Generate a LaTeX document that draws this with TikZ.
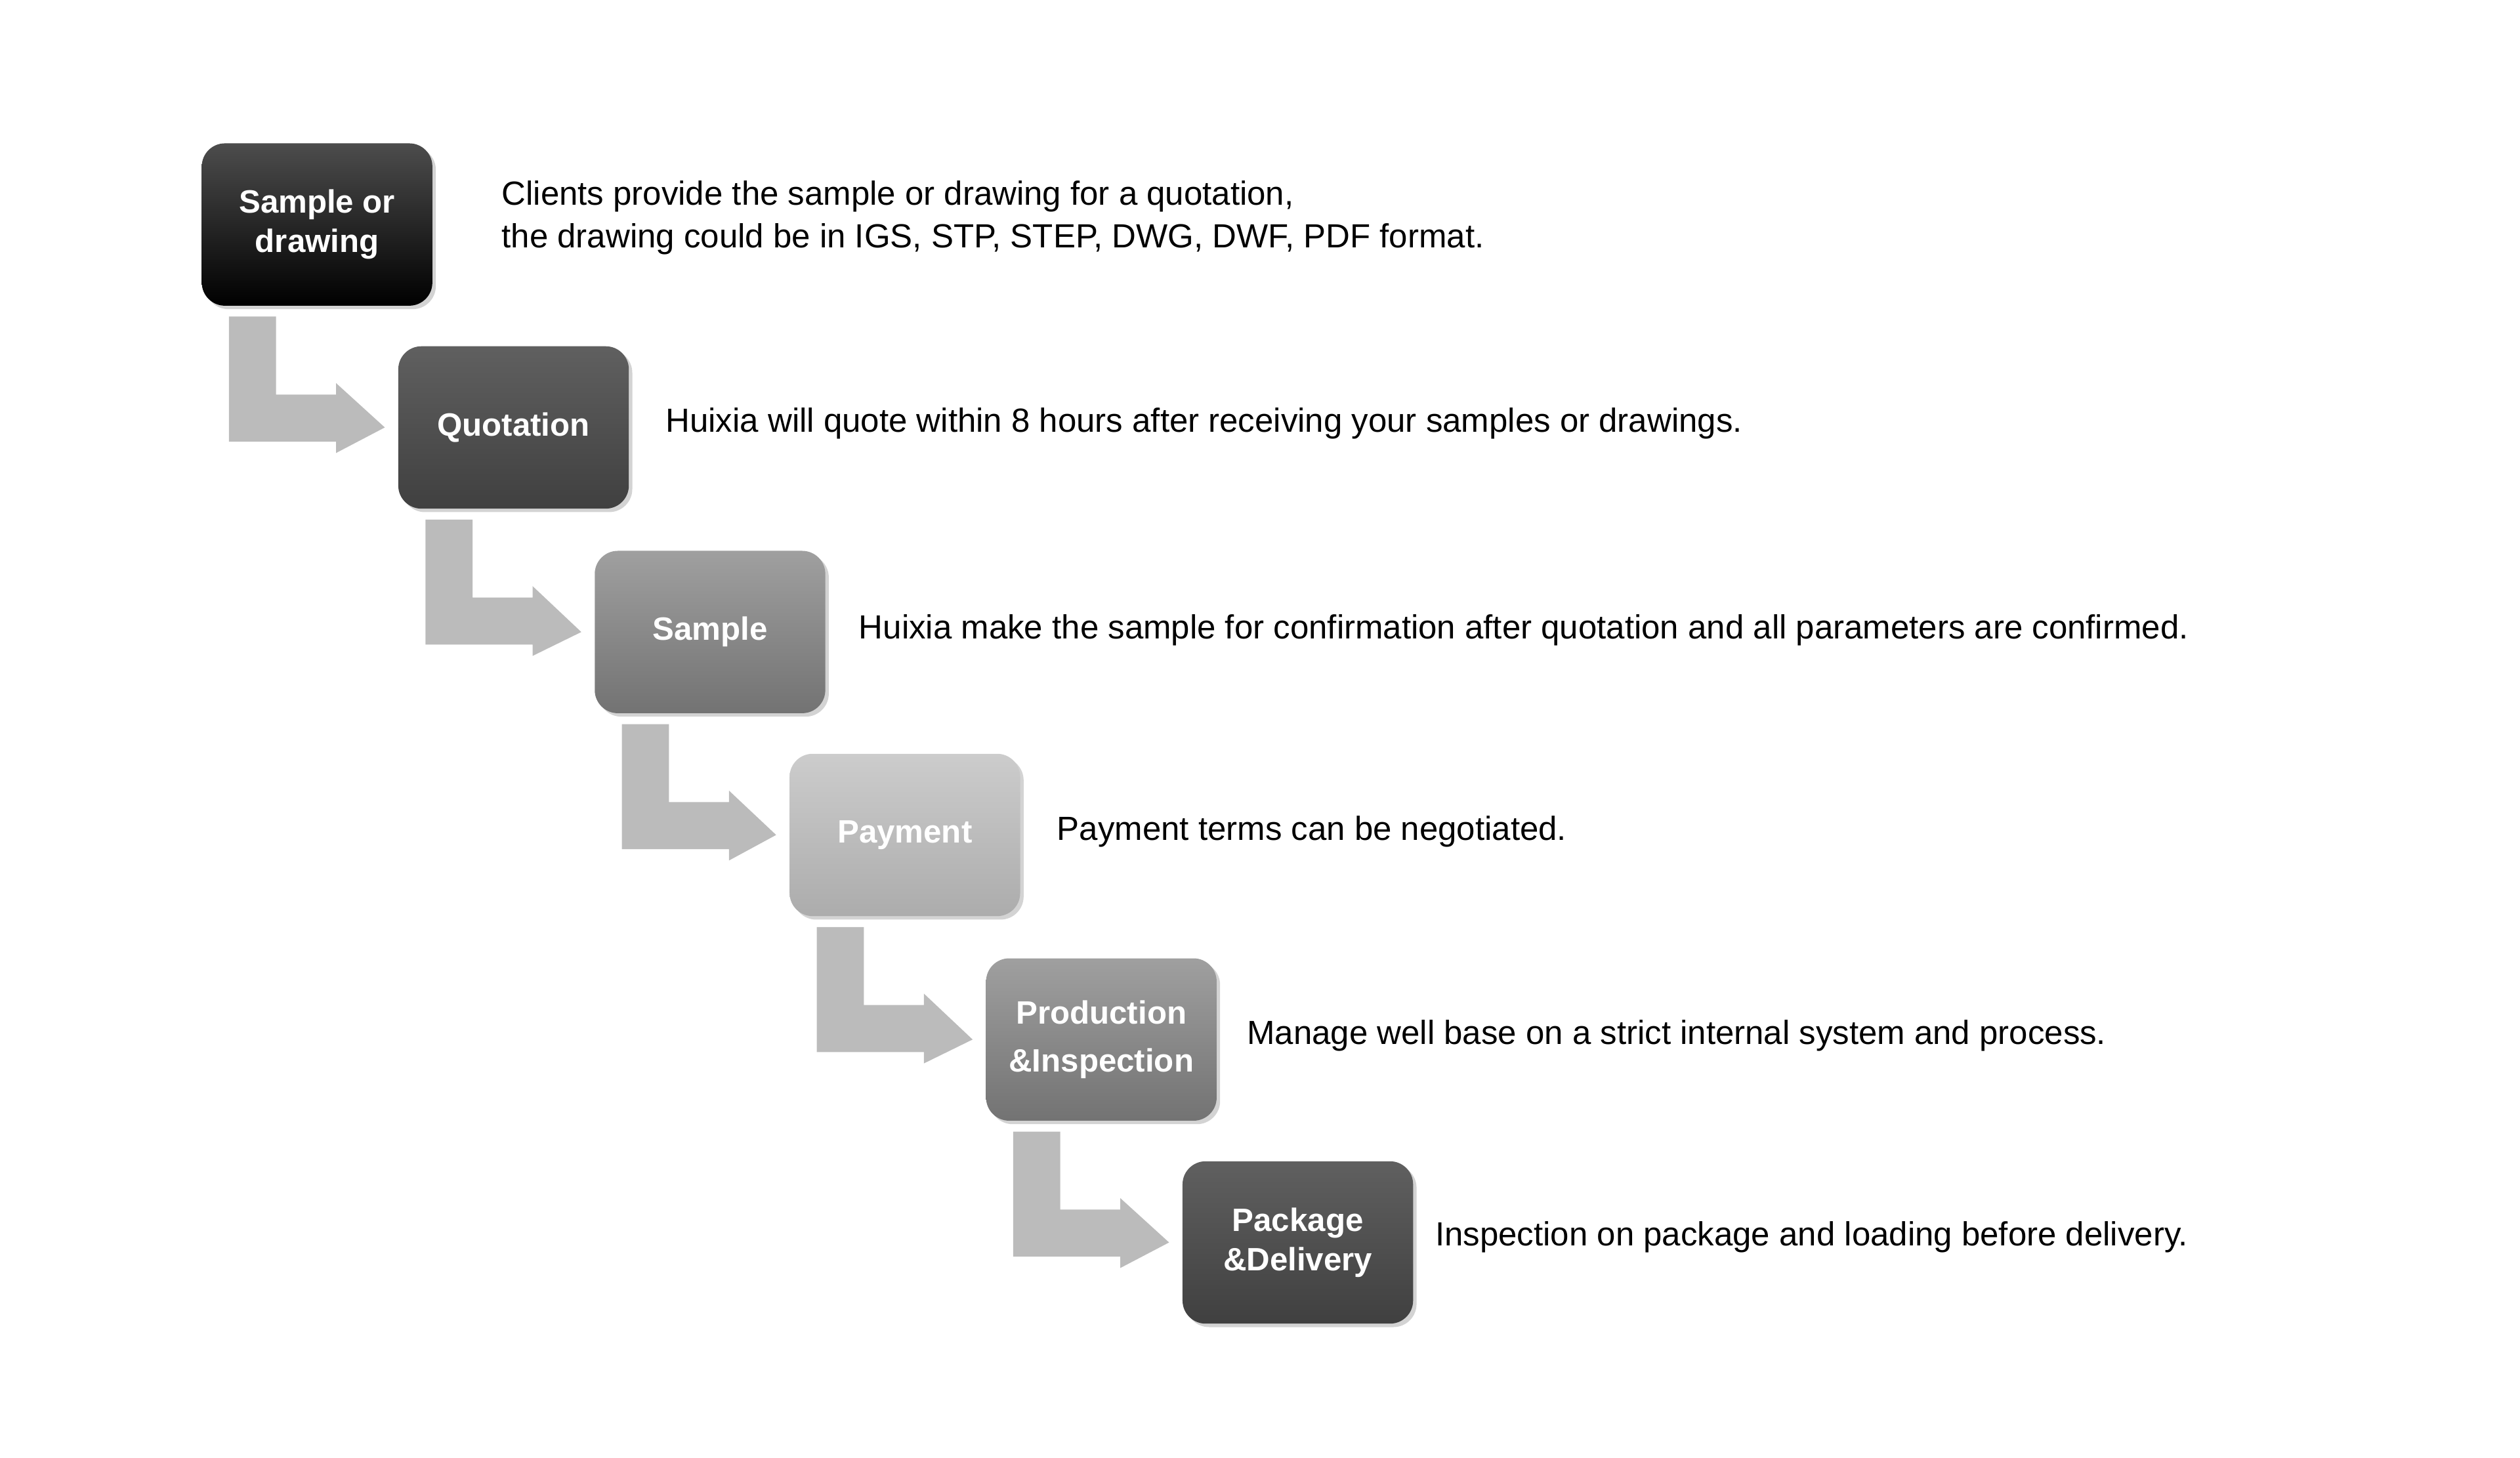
\documentclass[tikz,border=0pt]{standalone}
\usepackage{fontspec}
\setmainfont{Liberation Sans}
\usetikzlibrary{positioning,calc,shadows}
\definecolor{bar}{HTML}{BBBBBB}

\begin{document}
\begin{tikzpicture}[x=0.02474cm,y=-0.02474cm,
  phase/.style={rectangle, rounded corners=10, minimum width=142*0.02474cm, minimum height=100*0.02474cm, anchor=north west, align=center, text=white, font=\fontsize{14}{17}\selectfont\bfseries, drop shadow={opacity=0.35, shadow xshift=1.5pt, shadow yshift=-1.5pt}},
  desc/.style={anchor=west, align=left, font=\fontsize{14.5}{18.5}\selectfont},
  elbow/.style={fill=bar}]

\useasboundingbox (0,0) rectangle (1552,898);

% STEPS

\node [phase, top color=gray!60!black, bottom color=black] (drawing) at (124,88) {Sample or\\drawing};
\node [phase, top color=gray!75!black, bottom color=black!75] (quotation) at (245,213) {Quotation};
\node [phase, top color=gray!75, bottom color=black!55] (sample) at (366,339) {Sample};
\node [phase, top color=gray!40, bottom color=gray!65] (payment) at (486,464) {Payment};
\node [phase, top color=gray!75, bottom color=black!55] (production) at (607,590) {Production\\[4pt]\&Inspection};
\node [phase, top color=gray!75!black, bottom color=black!75] (package) at (728,715) {Package\\\&Delivery};

% DESCRIPTIONS

\node [desc] (drawing-text) at (304,134) {Clients provide the sample or drawing for a quotation,\\the drawing could be in IGS, STP, STEP, DWG, DWF, PDF format.};
\node [desc] (quotation-text) at (405,261) {Huixia will quote within 8 hours after receiving your samples or drawings.};
\node [desc] (sample-text) at (524,388) {Huixia make the sample for confirmation after quotation and all parameters are confirmed.};
\node [desc] (payment-text) at (646,512) {Payment terms can be negotiated.};
\node [desc] (production-text) at (763,638) {Manage well base on a strict internal system and process.};
\node [desc] (package-text) at (879,762) {Inspection on package and loading before delivery.};

% ARROWS

\foreach \a/\b in {drawing/quotation, quotation/sample, sample/payment, payment/production, production/package}
  \fill [elbow] ($(\a.north west)+(17,107)$) -- ($(\a.north west)+(46,107)$) -- ($(\a.north west)+(46,155)$)
    -- ($(\a.north west)+(83,155)$) -- ($(\a.north west)+(83,148)$) -- ($(\b.west)+(-8,0)$)
    -- ($(\a.north west)+(83,191)$) -- ($(\a.north west)+(83,184)$) -- ($(\a.north west)+(17,184)$) -- cycle;

\end{tikzpicture}
\end{document}
